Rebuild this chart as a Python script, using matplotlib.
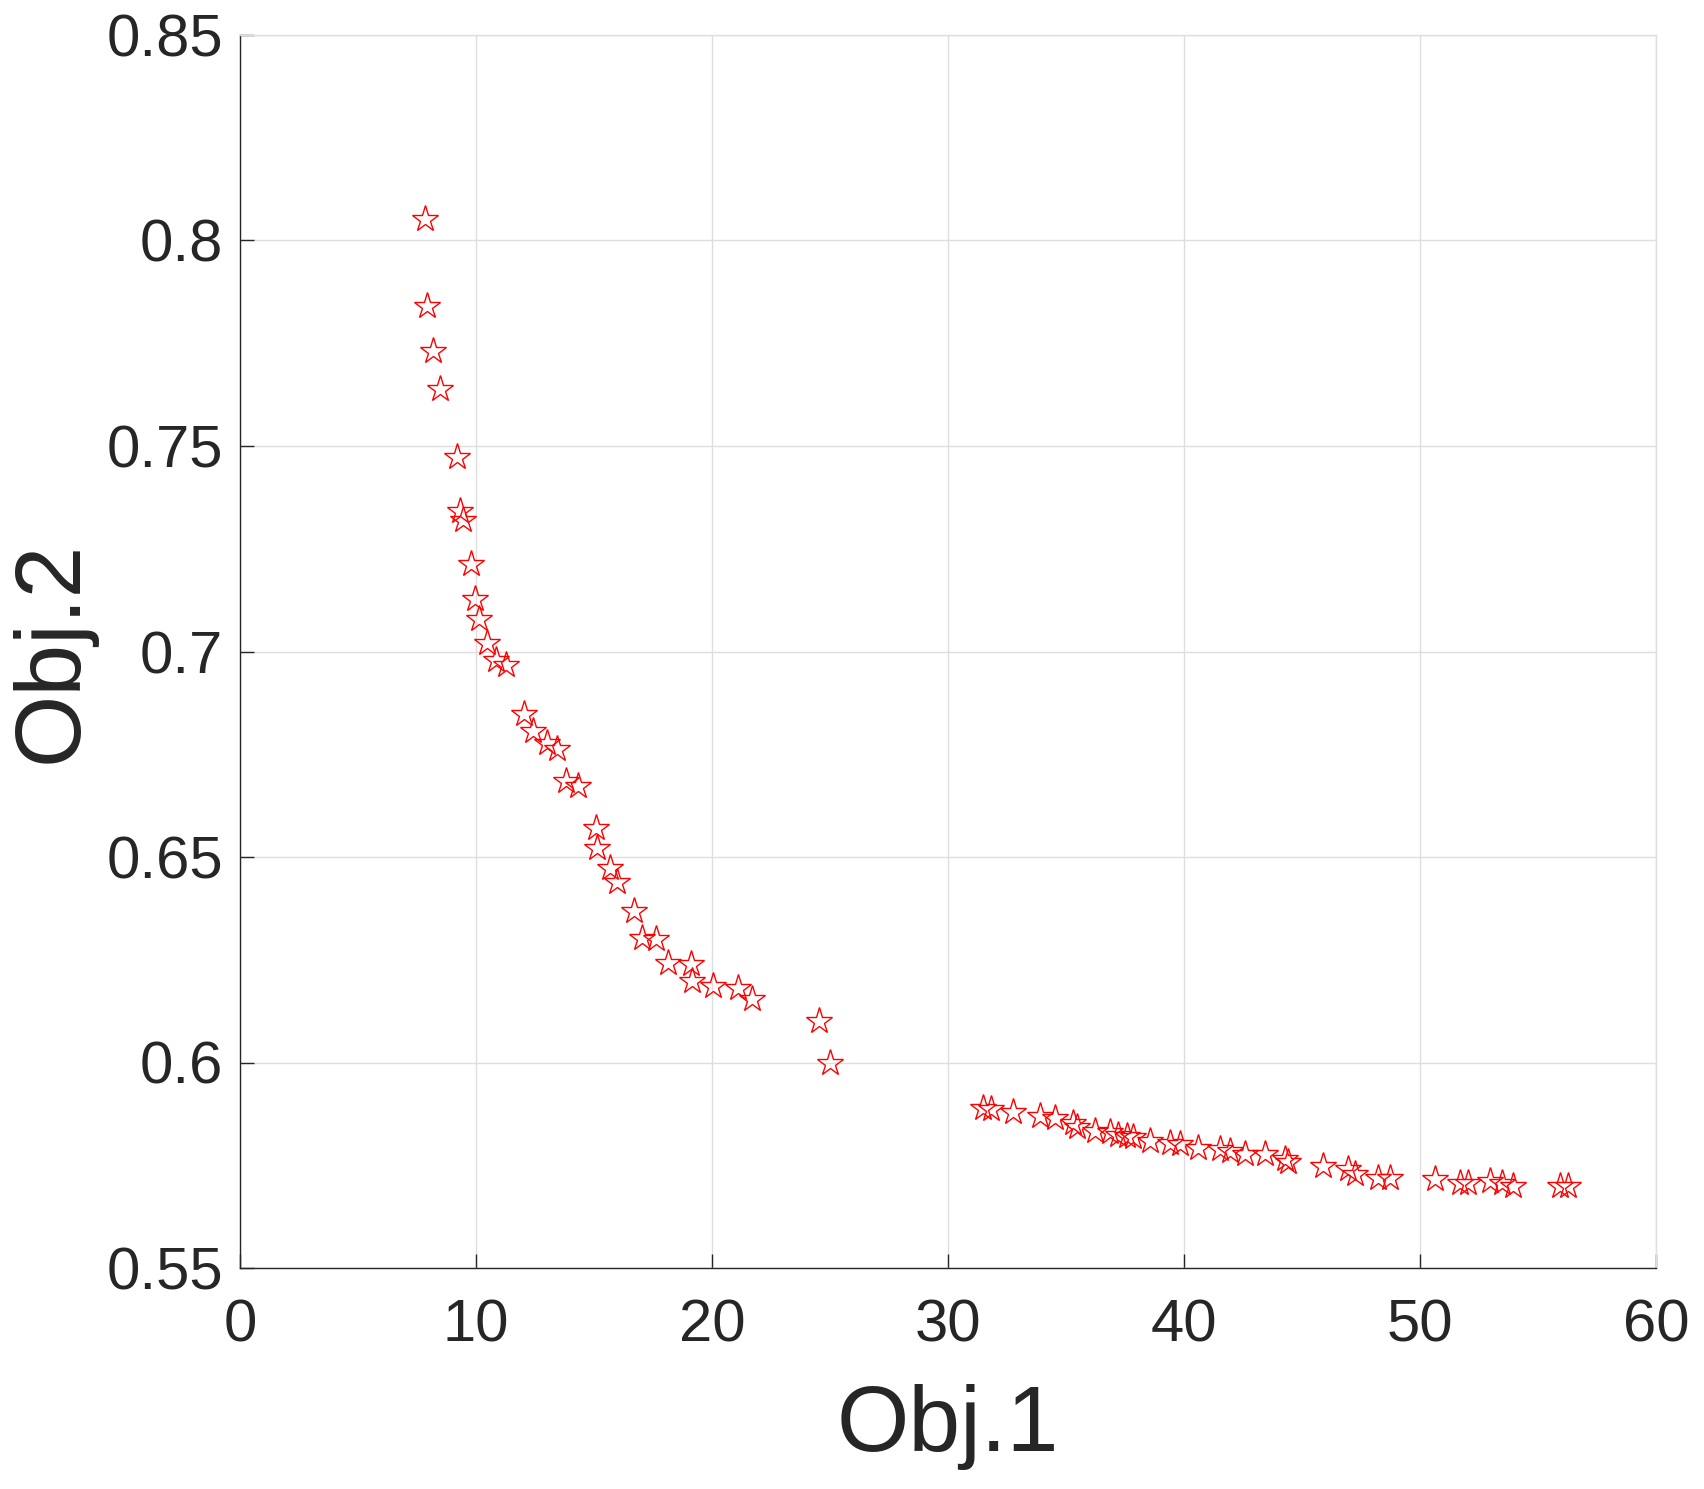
import matplotlib
matplotlib.use("Agg")
import matplotlib.pyplot as plt

# ---- data ----
obj1 = [7.82, 7.91, 8.18, 8.46,
        9.18, 9.32, 9.46, 9.77, 9.96, 10.13, 10.45, 10.85, 11.27,
        12.05, 12.43, 13.00, 13.42, 13.81, 14.33, 15.07, 15.11, 15.68, 15.96,
        16.71, 17.02, 17.63, 18.15, 19.10, 19.14, 20.06, 21.11, 21.71,
        24.53, 25.00,
        31.47, 31.81, 32.77, 33.90, 34.53, 35.31, 35.45, 36.23, 36.86, 37.22,
        37.57, 37.85, 38.56, 39.41, 39.83, 40.61, 41.53, 41.95, 42.58, 43.43,
        44.28, 44.42, 45.90, 46.96, 47.25, 48.23, 48.73, 50.64, 51.69, 52.05,
        52.97, 53.46, 53.95, 55.93, 56.28]
obj2 = [0.8053, 0.7841, 0.7730, 0.7638,
        0.7473, 0.7343, 0.7321, 0.7213, 0.7128, 0.7078, 0.7021, 0.6980, 0.6968,
        0.6847, 0.6806, 0.6778, 0.6762, 0.6685, 0.6672, 0.6571, 0.6523, 0.6474, 0.6438,
        0.6368, 0.6304, 0.6300, 0.6243, 0.6239, 0.6198, 0.6186, 0.6182, 0.6154,
        0.6101, 0.6000,
        0.5890, 0.5888, 0.5880, 0.5870, 0.5864, 0.5852, 0.5842, 0.5834, 0.5830, 0.5823,
        0.5821, 0.5818, 0.5809, 0.5804, 0.5801, 0.5791, 0.5789, 0.5785, 0.5777, 0.5777,
        0.5766, 0.5757, 0.5749, 0.5741, 0.5729, 0.5720, 0.5718, 0.5716, 0.5708, 0.5708,
        0.5712, 0.5706, 0.5700, 0.5700, 0.5700]

xticks = [0, 10, 20, 30, 40, 50, 60]
yticks = [0.55, 0.6, 0.65, 0.7, 0.75, 0.8, 0.85]
ytick_labels = ["0.55", "0.6", "0.65", "0.7", "0.75", "0.8", "0.85"]
xlabel = "Obj.1"
ylabel = "Obj.2"

plt.rcParams['font.family'] = ['Liberation Sans', 'DejaVu Sans']

fig = plt.figure(figsize=(17.04, 14.89), dpi=100)
ax = fig.add_axes([240/1704, 1 - 1268/1489, 1416/1704, 1233/1489])

ax.plot(obj1, obj2, linestyle='none', marker='*', markersize=20,
        markerfacecolor='none', markeredgecolor='#ff0000', markeredgewidth=1.0,
        zorder=3)

ax.set_xlim(0, 60)
ax.set_ylim(0.55, 0.85)
ax.set_xticks(xticks)
ax.set_xticklabels([str(t) for t in xticks])
ax.set_yticks(yticks)
ax.set_yticklabels(ytick_labels)

ax.grid(True, color='#dedede', linewidth=1.0)
ax.set_axisbelow(True)

dark = '#262626'
for s in ['left', 'bottom']:
    ax.spines[s].set_color(dark)
    ax.spines[s].set_linewidth(1.0)
for s in ['top', 'right']:
    ax.spines[s].set_color('#dedede')
    ax.spines[s].set_linewidth(1.0)

ax.tick_params(axis='both', direction='in', length=10, width=1.0, color=dark,
               labelcolor=dark, labelsize=43, top=False, right=False)
ax.tick_params(axis='x', pad=22)
ax.tick_params(axis='y', pad=12)

ax.set_xlabel(xlabel, fontsize=67, color=dark, labelpad=22)
ax.set_ylabel(ylabel, fontsize=67, color=dark, labelpad=8)

fig.savefig("out.png", dpi=100, facecolor='white')
